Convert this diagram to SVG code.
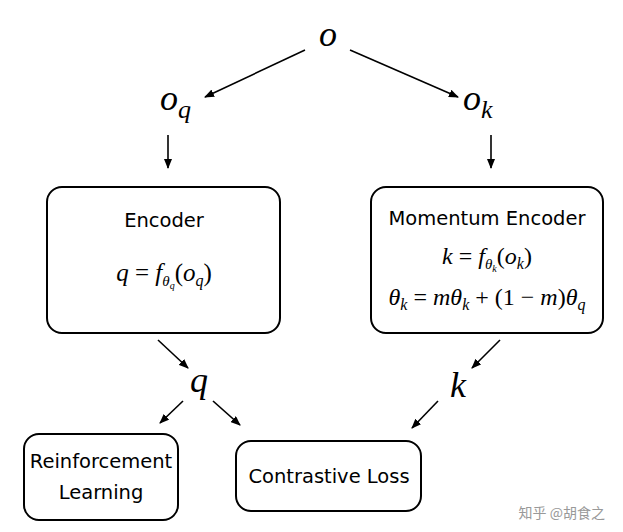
<svg xmlns="http://www.w3.org/2000/svg" width="623" height="532" viewBox="0 0 623 532">
<defs>
<marker id="ah" markerWidth="10" markerHeight="8" refX="9" refY="4" orient="auto" markerUnits="userSpaceOnUse">
<path d="M0,0 L10,4 L0,8 Z" fill="#000"/>
</marker>
<style>
.box{fill:#fff;stroke:#000;stroke-width:2}
.lbl{font-family:"DejaVu Sans",sans-serif;font-size:19.5px;fill:#000;text-anchor:middle}
.m{font-family:"Liberation Serif",serif;font-style:italic;fill:#000}
.r{font-style:normal}
.ln{stroke:#000;stroke-width:1.6;fill:none;marker-end:url(#ah)}
</style>
</defs>
<rect width="623" height="532" fill="#fff"/>
<g id="o"><text class="m" x="328" y="46" font-size="36" text-anchor="middle">o</text></g>
<g id="oq"><text class="m" x="160" y="110" font-size="36">o<tspan font-size="26" dy="8">q</tspan></text></g>
<g id="ok"><text class="m" x="463" y="110" font-size="36">o<tspan font-size="26" dy="8">k</tspan></text></g>
<g id="encoder">
<rect class="box" x="47" y="187" width="233" height="146" rx="15"/>
<text class="lbl" x="164" y="227">Encoder</text>
<text class="m" x="164" y="281" font-size="25" text-anchor="middle">q <tspan class="r">=</tspan> f<tspan font-size="15" dy="5">θ</tspan><tspan font-size="10" dy="3">q</tspan><tspan class="r" dy="-8">(</tspan>o<tspan font-size="16" dy="5">q</tspan><tspan class="r" dy="-5">)</tspan></text>
</g>
<g id="momentum">
<rect class="box" x="371" y="187" width="232" height="146" rx="15"/>
<text class="lbl" x="487" y="225" font-size="20.5">Momentum Encoder</text>
<text class="m" x="487" y="264" font-size="24" text-anchor="middle">k <tspan class="r">=</tspan> f<tspan font-size="15" dy="5">θ</tspan><tspan font-size="10" dy="3">k</tspan><tspan class="r" dy="-8">(</tspan>o<tspan font-size="16" dy="5">k</tspan><tspan class="r" dy="-5">)</tspan></text>
<text class="m" x="487" y="305" font-size="24" text-anchor="middle">θ<tspan font-size="16" dy="5">k</tspan><tspan class="r" dy="-5"> = </tspan>mθ<tspan font-size="16" dy="5">k</tspan><tspan class="r" dy="-5"> + (1 − </tspan>m<tspan class="r">)</tspan>θ<tspan font-size="16" dy="5">q</tspan></text>
</g>
<g id="q"><text class="m" x="199" y="392" font-size="36" text-anchor="middle">q</text></g>
<g id="k"><text class="m" x="458" y="397" font-size="36" text-anchor="middle">k</text></g>
<g id="rl">
<rect class="box" x="24" y="434" width="154" height="86" rx="15"/>
<text class="lbl" x="101" y="468">Reinforcement</text>
<text class="lbl" x="101" y="499">Learning</text>
</g>
<g id="cl">
<rect class="box" x="236" y="441" width="185" height="70" rx="15"/>
<text class="lbl" x="329" y="483">Contrastive Loss</text>
</g>
<g id="connectors">
<line class="ln" x1="305" y1="50" x2="205" y2="97"/>
<line class="ln" x1="350" y1="50" x2="458" y2="97"/>
<line class="ln" x1="168" y1="135" x2="168" y2="168"/>
<line class="ln" x1="491" y1="135" x2="491" y2="168"/>
<line class="ln" x1="158" y1="340" x2="188" y2="368"/>
<line class="ln" x1="500" y1="340" x2="472" y2="368"/>
<line class="ln" x1="183" y1="401" x2="160" y2="423"/>
<line class="ln" x1="213" y1="401" x2="240" y2="425"/>
<line class="ln" x1="438" y1="401" x2="412" y2="428"/>
</g>
<text x="605" y="518" font-family="Noto Sans CJK SC,sans-serif" font-size="14" fill="#999" text-anchor="end">知乎 @胡食之</text>
</svg>
